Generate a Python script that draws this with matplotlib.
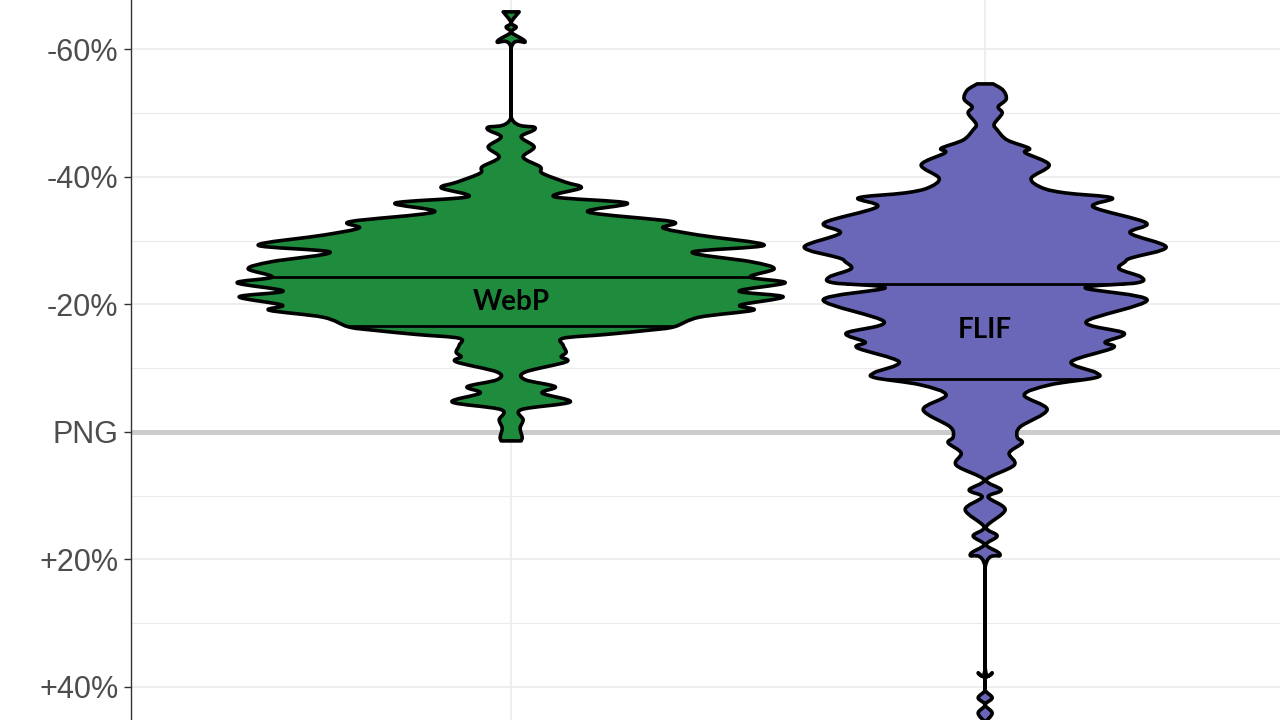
import numpy as np
import matplotlib.pyplot as plt
from matplotlib.path import Path
from matplotlib.patches import PathPatch

# violin outlines: y in % size change vs PNG, half-width in pixel-like units
webp_y = [-65.9, -64.2, -63.5, -62.7, -61.2, -60.2, -49.4, -47.7, -46.3, -44.7,
          -43.1, -41.6, -40.6, -39.2, -38.3, -36.9, -35.9, -34.5, -33.0, -32.0,
          -30.9, -29.3, -28.2, -26.7, -25.6, -24.3, -23.4, -22.1, -21.2, -19.9,
          -19.1, -18.0, -16.5, -16.0, -15.3, -14.7, -13.6, -12.5, -11.8, -11.0,
          -9.4, -8.2, -7.1, -6.1, -4.7, -3.5, -1.9, -0.6, 0.8, 1.4]
webp_w = [8, 0, 5, 0, 14, 0, 0, 24, 10, 23,
          12, 29, 31, 54, 70, 43, 116, 77, 161, 152,
          187, 253, 181, 240, 263, 239, 274, 228, 272, 229,
          242, 188, 163, 140, 95, 52, 52, 55, 50, 55,
          14, 14, 44, 31, 59, 10, 12, 9, 11, 10]

flif_y = [-54.6, -53.6, -52.2, -51.0, -50.0, -48.3, -47.4, -45.8, -44.5, -43.8,
          -41.9, -39.8, -38.3, -37.5, -36.7, -35.3, -32.8, -31.2, -29.0, -27.3,
          -26.7, -25.6, -24.3, -23.4, -22.6, -20.7, -17.3, -15.5, -14.1, -13.2,
          -11.0, -9.3, -8.5, -7.4, -5.8, -3.5, -0.8, 0.8, 1.7, 3.3,
          5.2, 7.5, 9.1, 10.2, 12.2, 14.9, 16.3, 17.7, 19.3, 21.3,
          36.9, 37.8, 38.7, 40.5, 41.7, 42.8, 44.1, 45.5]
flif_w = [8, 18, 21, 13, 17, 9, 12, 22, 44, 40,
          64, 46, 57, 80, 127, 108, 161, 145, 181, 146,
          140, 134, 156, 152, 100, 162, 101, 139, 120, 128,
          86, 111, 110, 65, 39, 62, 35, 32, 37, 24,
          29, 1, 16, 3, 20, 1, 12, 1, 15, 0,
          0, 7, 0, 0, 7, 0, 7, 0]

formats = ["WebP", "FLIF"]
colors = ["#1f8b3d", "#6a66b8"]
quantiles = {"WebP": [-24.3, -16.6], "FLIF": [-23.2, -8.3]}
label_y = {"WebP": -20.4, "FLIF": -16.0}

y_ticks = [-60, -40, -20, 0, 20, 40]
y_tick_labels = ["-60%", "-40%", "-20%", "PNG", "+20%", "+40%"]

width_scale = 1 / 474.0


def smooth_profile(ys, ws):
    # catmull-rom in (y, width) space -> bezier control points, width kept >= 0
    P = np.column_stack([ys, ws])
    P = np.vstack([P[0], P, P[-1]])
    out = [P[1]]
    for i in range(1, len(P) - 2):
        p0, p1, p2, p3 = P[i - 1], P[i], P[i + 1], P[i + 2]
        a = p1 + (p2 - p0) / 6
        b = p2 - (p3 - p1) / 6
        a[1] = max(a[1], 0)
        b[1] = max(b[1], 0)
        out += [a, b, p2]
    return np.array(out)


fig = plt.figure(figsize=(12.8, 7.2), dpi=100)
ax = fig.add_axes([131 / 1280, 0, 1 - 131 / 1280, 1])

# grid
for v in [-50, -30, -10, 10, 30]:
    ax.axhline(v, color="#ebebeb", lw=0.8, zorder=0)
for v in y_ticks:
    if v != 0:
        ax.axhline(v, color="#ebebeb", lw=1.2, zorder=0)
for xc in [1, 2]:
    ax.axvline(xc, color="#ebebeb", lw=1.2, zorder=0)
ax.axhline(0, color="#cccccc", lw=3.6, zorder=0.5)

outlines = [(webp_y, webp_w), (flif_y, flif_w)]
for i, (name, (ys, ws)) in enumerate(zip(formats, outlines)):
    xc = i + 1
    ys = np.array(ys, dtype=float)
    ws = np.array(ws, dtype=float) * width_scale
    prof = smooth_profile(ys, ws)
    n = len(prof)
    left = np.column_stack([xc - prof[:, 1], prof[:, 0]])
    right = np.column_stack([xc + prof[:, 1], prof[:, 0]])[::-1]
    verts = np.vstack([left, right, left[:1]])
    codes = ([Path.MOVETO] + [Path.CURVE4] * (n - 1)
             + [Path.LINETO] + [Path.CURVE4] * (n - 1) + [Path.CLOSEPOLY])
    patch = PathPatch(Path(verts, codes), facecolor=colors[i],
                      edgecolor="black", lw=2.6, joinstyle="round", zorder=2)
    ax.add_patch(patch)
    for q in quantiles[name]:
        hw = np.interp(q, ys, ws)
        ax.plot([xc - hw, xc + hw], [q, q], color="black", lw=2.0,
                solid_capstyle="butt", zorder=3)
    ax.text(xc, label_y[name], name, ha="center", va="center",
            fontsize=20, fontweight="bold", family="Lato", zorder=4)

ax.set_xlim(0.198, 2.622)
ax.set_ylim(45.18, -67.76)
ax.set_yticks(y_ticks)
ax.set_yticklabels(y_tick_labels, family="Liberation Sans", fontsize=22,
                   color="#4d4d4d")
ax.set_xticks([])
ax.tick_params(axis="y", length=5, width=1, color="#333333", pad=4)
for s in ["top", "right", "bottom"]:
    ax.spines[s].set_visible(False)
ax.spines["left"].set_color("#333333")
ax.spines["left"].set_linewidth(1)

plt.savefig("out.png", dpi=100)
